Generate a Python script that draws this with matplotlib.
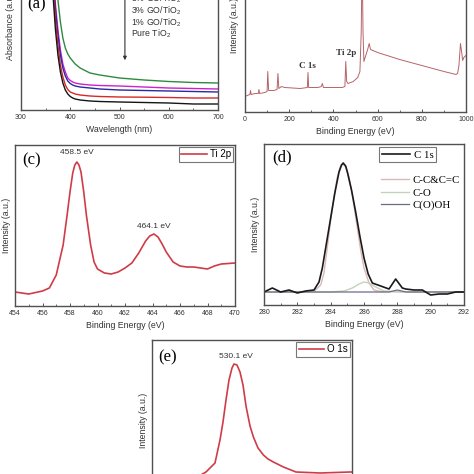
import matplotlib.pyplot as plt
from matplotlib.ticker import MultipleLocator

plt.rcParams['font.family'] = ['Liberation Sans', 'DejaVu Sans']
plt.rcParams['mathtext.fontset'] = 'custom'
plt.rcParams['mathtext.rm'] = 'Liberation Sans'

# ----------------- DATA -----------------
# (a) UV-vis absorbance
wl = [300, 340, 355, 360, 365, 370, 375, 380, 385, 390, 395, 400, 405, 410, 420, 440, 460, 500, 550, 600, 650, 700]
abs_pure = [2.0, 2.0, 1.9, 1.55, 1.15, 0.80, 0.55, 0.38, 0.27, 0.20, 0.16, 0.135, 0.12, 0.11, 0.10, 0.09, 0.085, 0.08, 0.075, 0.07, 0.06, 0.06]
abs_1 = [2.0, 2.0, 1.95, 1.65, 1.25, 0.90, 0.65, 0.45, 0.33, 0.25, 0.205, 0.18, 0.17, 0.16, 0.15, 0.14, 0.135, 0.13, 0.128, 0.125, 0.12, 0.12]
abs_3 = [2.0, 2.0, 1.95, 1.70, 1.35, 1.00, 0.75, 0.55, 0.42, 0.34, 0.29, 0.265, 0.25, 0.24, 0.23, 0.22, 0.21, 0.20, 0.195, 0.19, 0.185, 0.18]
abs_5 = [2.0, 2.0, 2.0, 1.75, 1.40, 1.05, 0.80, 0.60, 0.46, 0.38, 0.32, 0.295, 0.28, 0.27, 0.26, 0.25, 0.245, 0.24, 0.23, 0.22, 0.215, 0.21]
abs_7 = [2.0, 2.0, 2.0, 1.90, 1.60, 1.35, 1.10, 0.88, 0.72, 0.62, 0.56, 0.52, 0.49, 0.46, 0.42, 0.37, 0.35, 0.32, 0.30, 0.285, 0.275, 0.27]
uv_labels = ["7% GO/TiO$_2$", "5% GO/TiO$_2$", "3% GO/TiO$_2$", "1% GO/TiO$_2$", "Pure TiO$_2$"]

# (b) XPS survey
survey_be = [0, 10, 22, 25, 28, 45, 60, 63, 66, 90, 100, 103, 107, 130, 145, 149, 153, 165, 180,
             250, 282, 285, 288, 330, 345, 350, 355, 400, 440, 452, 456, 460, 466, 490, 510, 520,
             526, 530, 534, 538, 545, 555, 562, 568, 600, 700, 800, 900, 955, 962, 968, 975, 980,
             985, 990, 1000]
survey_int = [15, 16, 17, 21, 17, 18, 18, 22, 18, 19, 20, 40, 21, 21, 22, 38, 23, 25, 24,
              23, 24, 39, 24, 24, 25, 28, 24, 24, 24, 25, 50, 30, 28, 30, 34, 40,
              80, 160, 80, 50, 55, 62, 68, 62, 59, 52, 46, 40, 37, 38, 46, 68, 60,
              51, 54, 56]

# (c) Ti 2p
ti_be = [454, 455, 456, 456.5, 457, 457.5, 457.8, 458, 458.2, 458.35, 458.5, 458.65, 458.8, 459,
         459.2, 459.5, 459.75, 460, 460.5, 461, 461.5, 462, 462.5, 463, 463.5, 463.8, 464.1, 464.4,
         464.7, 465, 465.5, 466, 466.5, 467, 467.5, 468, 468.5, 469, 470]
ti_int = [14, 12, 15, 18, 31, 61, 92, 114, 133, 141, 144, 141, 134, 114,
          90, 61, 44, 37, 33, 32, 34, 38, 43, 53, 65, 70, 72, 69,
          62, 54, 44, 40, 39, 39, 38, 37, 40, 42, 43]

# (d) C 1s
c_be = [280, 280.5, 281, 281.5, 282, 282.5, 283, 283.3, 283.5, 283.75, 284, 284.25, 284.5, 284.65,
        284.75, 284.9, 285, 285.25, 285.5, 285.75, 286, 286.25, 286.5, 287, 287.5, 287.9, 288.3, 288.5,
        289, 289.5, 290, 290.5, 291, 291.5, 292]
c_int = [13, 17, 13, 15, 12, 14, 15, 23, 37, 62, 87, 112, 133, 140,
         142, 139, 133, 115, 93, 69, 47, 31, 22, 19, 16, 26, 17, 16,
         15, 15, 10, 11, 11, 13, 13]
cc_be = [280, 283, 283.4, 283.6, 283.8, 284, 284.2, 284.4, 284.6, 284.75, 284.9, 285.1, 285.3,
         285.5, 285.8, 286, 286.3, 286.6, 287, 292]
cc_int = [13, 13.5, 20, 32, 58, 85, 108, 128, 139, 141, 138, 128, 110,
          88, 55, 37, 22, 15, 13.5, 13]
co_be = [280, 284, 284.8, 285.3, 285.7, 286, 286.3, 286.7, 287.2, 288, 292]
co_int = [13, 13, 14, 17, 21, 23, 22, 18, 14, 13, 13]
cooh_be = [280, 287.5, 288, 288.5, 292]
cooh_int = [13, 13, 15, 13, 13]

# (e) O 1s
o_be = [526, 527, 528, 528.7, 529.15, 529.4, 529.55, 529.7, 529.85, 530.0, 530.1, 530.25, 530.4,
        530.55, 530.7, 530.9, 531.07, 531.3, 531.57, 531.8, 532.07, 532.57, 533.2, 534.4, 535.9, 536]
o_int = [15, 16, 20, 28, 37, 60, 78, 100, 120, 132, 136, 135, 128,
         115, 94, 74, 63, 52, 45, 41, 38, 33, 28, 27, 28, 28]
# ----------------------------------------

W = H = 474.0
fig = plt.figure(figsize=(4.74, 4.74), dpi=100)


def px_axes(left, top, right, bottom):
    return fig.add_axes([left / W, 1 - bottom / H, (right - left) / W, (bottom - top) / H])


def style(ax, major, minor):
    for s in ax.spines.values():
        s.set_color("#505050")
        s.set_linewidth(1.0)
    ax.xaxis.set_major_locator(MultipleLocator(major))
    ax.xaxis.set_minor_locator(MultipleLocator(minor))
    ax.tick_params(axis="x", which="major", direction="in", length=2.5, width=0.7,
                   labelsize=5, pad=3, colors="#555555", labelcolor="#333333")
    ax.tick_params(axis="x", which="minor", direction="in", length=1.5, width=0.6, colors="#555555")
    ax.tick_params(axis="y", which="both", left=False, labelleft=False)


serif = ["Liberation Serif", "DejaVu Serif"]
red = "#cf3c48"

# ---- (a)
ax = px_axes(21, -60, 218, 110)
for y, c in zip([abs_7, abs_5, abs_3, abs_1, abs_pure],
                ["#2e8b3e", "#cc22cc", "#2a2aa0", "#d42a2a", "#151515"]):
    ax.plot(wl, y, color=c, lw=1.0)
ax.set_xlim(300, 700)
ax.set_ylim(0, 1.7)
style(ax, 100, 50)
ax.set_xlabel("Wavelength (nm)", fontsize=6.3, labelpad=3, color="#333333")
ax.set_ylabel("Absorbance (a.u.)", fontsize=6.3, labelpad=4, color="#333333")
for i, lab in enumerate(uv_labels):
    ax.text(524, 1.23 - i * 0.118, lab, fontsize=6.3, color="#333333", va="center")
ax.annotate("", xy=(511, 0.47), xytext=(511, 1.9),
            arrowprops=dict(arrowstyle="-|>", color="#333333", lw=0.8, mutation_scale=5))
ax.text(332, 1.06, "(a)", fontsize=12, family=serif, va="center", ha="center")

# ---- (b)
ax = px_axes(245, -60, 466, 111.5)
ax.plot(survey_be, survey_int, color="#b5646a", lw=0.7)
ax.set_xlim(0, 1000)
ax.set_ylim(0, 171.5)
style(ax, 200, 100)
ax.set_xlabel("Binding Energy (eV)", fontsize=6.3, labelpad=3, color="#333333")
ax.set_ylabel("Intensity (a.u.)", fontsize=6.3, labelpad=4, color="#333333")
ax.text(283, 46, "C 1s", fontsize=6.5, family=serif, ha="center", va="center", fontweight="bold", color="#333333")
ax.text(457, 59, "Ti 2p", fontsize=6.5, family=serif, ha="center", va="center", fontweight="bold", color="#333333")

# ---- (c)
ax = px_axes(15, 145, 235, 306)
ax.plot(ti_be, ti_int, color=red, lw=1.2, label="Ti 2p")
ax.set_xlim(454, 470)
ax.set_ylim(0, 161)
style(ax, 2, 1)
ax.set_xlabel("Binding Energy (eV)", fontsize=6.3, labelpad=3, color="#333333")
ax.set_ylabel("Intensity (a.u.)", fontsize=6.3, labelpad=3, color="#333333")
ax.text(458.5, 154, "458.5 eV", fontsize=6, ha="center", va="center", color="#333333")
ax.text(464.1, 80, "464.1 eV", fontsize=6, ha="center", va="center", color="#333333")
ax.text(455.2, 146, "(c)", fontsize=12, family=serif, ha="center", va="center")
leg = ax.legend(loc="upper right", fontsize=7, frameon=True, fancybox=False,
                handlelength=2.6, borderpad=0.25, borderaxespad=0.2, handletextpad=0.3)
leg.get_frame().set_edgecolor("#555555")
leg.get_frame().set_linewidth(0.8)

# ---- (d)
ax = px_axes(264, 144, 464, 305)
l_cc, = ax.plot(cc_be, cc_int, color="#d8b8b8", lw=1.0)
l_co, = ax.plot(co_be, co_int, color="#c4d2bc", lw=1.0)
l_cooh, = ax.plot(cooh_be, cooh_int, color="#6c6c86", lw=0.9)
l_c, = ax.plot(c_be, c_int, color="#1a1a1a", lw=1.2)
ax.set_xlim(280, 292)
ax.set_ylim(0, 161)
style(ax, 2, 1)
ax.set_xlabel("Binding Energy (eV)", fontsize=6.3, labelpad=3, color="#333333")
ax.set_ylabel("Intensity (a.u.)", fontsize=6.3, labelpad=3, color="#333333")
ax.text(281.1, 148, "(d)", fontsize=12, family=serif, ha="center", va="center")
leg1 = ax.legend([l_c], ["C 1s"], loc="upper right", bbox_to_anchor=(0.86, 0.98),
                 prop={"family": serif, "size": 7.8}, fancybox=False,
                 handlelength=2.6, borderpad=0.25, borderaxespad=0.0, handletextpad=0.3)
leg1.get_frame().set_edgecolor("#555555")
leg1.get_frame().set_linewidth(0.8)
ax.add_artist(leg1)
ax.legend([l_cc, l_co, l_cooh], ["C-C&C=C", "C-O", "C(O)OH"], loc="upper right",
          bbox_to_anchor=(1.0, 0.83), prop={"family": serif, "size": 7.8}, frameon=False,
          handlelength=2.6, labelspacing=0.25, handletextpad=0.3, borderaxespad=0.0)

# ---- (e)
ax = px_axes(152, 340, 352, 500)
ax.plot(o_be, o_int, color=red, lw=1.2, label="O 1s")
ax.set_xlim(526, 536)
ax.set_ylim(0, 160)
style(ax, 2, 1)
ax.set_ylabel("Intensity (a.u.)", fontsize=6.3, labelpad=3, color="#333333")
ax.text(530.2, 144, "530.1 eV", fontsize=6, ha="center", va="center", color="#333333")
ax.text(526.8, 143, "(e)", fontsize=12, family=serif, ha="center", va="center")
leg = ax.legend(loc="upper right", fontsize=7, frameon=True, fancybox=False,
                handlelength=2.6, borderpad=0.25, borderaxespad=0.2, handletextpad=0.3)
leg.get_frame().set_edgecolor("#555555")
leg.get_frame().set_linewidth(0.8)

fig.savefig("out.png", dpi=100)
